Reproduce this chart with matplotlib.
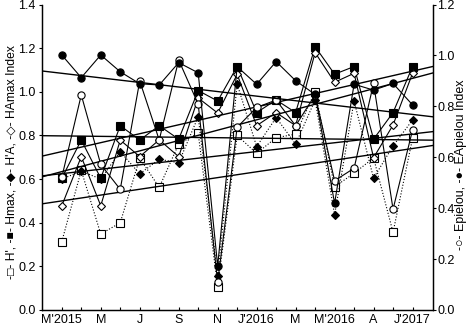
import numpy as np
import matplotlib
matplotlib.use("Agg")
import matplotlib.pyplot as plt

# Sampling occasions (monthly, every other one labelled)
samples = np.arange(19)
tick_labels = ["M'2015", "M", "J", "S", "N", "J'2016", "M", "M'2016", "A", "J'2017"]

# Diversity indices (left axis)
h_shannon = [0.313, 0.64, 0.348, 0.40, 0.696, 0.562, 0.761, 0.81, 0.107, 0.80,
             0.718, 0.79, 0.806, 1.001, 0.565, 0.627, 0.697, 0.356, 0.787]
h_max = [0.604, 0.779, 0.604, 0.845, 0.779, 0.845, 0.783, 1.006, 0.958, 1.116,
         0.905, 0.963, 0.905, 1.207, 1.081, 1.116, 0.783, 0.905, 1.116]
h_shannon_a = [0.60, 0.637, 0.60, 0.726, 0.624, 0.691, 0.675, 0.886, 0.156, 1.036,
               0.749, 0.882, 0.76, 0.963, 0.436, 0.958, 0.604, 0.752, 0.871]
h_max_a = [0.478, 0.703, 0.478, 0.779, 0.703, 0.78, 0.703, 0.972, 0.903, 1.08,
           0.845, 0.905, 0.845, 1.18, 1.044, 1.085, 0.698, 0.848, 1.085]

# Evenness indices (right axis)
pielou = [0.521, 0.845, 0.572, 0.474, 0.90, 0.668, 0.982, 0.809, 0.109, 0.718,
          0.796, 0.825, 0.724, 0.845, 0.508, 0.557, 0.89, 0.396, 0.707]
pielou_a = [1.002, 0.913, 1.002, 0.936, 0.889, 0.884, 0.972, 0.932, 0.173, 0.956,
            0.887, 0.976, 0.901, 0.847, 0.419, 0.887, 0.864, 0.89, 0.806]

plt.rcParams['font.family'] = ['Liberation Sans', 'DejaVu Sans']
plt.rcParams['font.size'] = 9

fig = plt.figure(figsize=(4.74, 3.26), dpi=100)
ax = fig.add_axes([0.088, 0.0491, 0.8255, 0.9368])
ax2 = ax.twinx()

xlim = (-1.03, 19.05)
ax.set_xlim(*xlim)
ax.set_ylim(0, 1.4)
ax2.set_ylim(0, 1.2)

lw = 0.8
ms = 5.2

def series(axis, vals, marker, face, ls, size=ms):
    axis.plot(samples, vals, color='black', linestyle=ls, linewidth=lw,
              marker=marker, markersize=size, markerfacecolor=face,
              markeredgecolor='black', markeredgewidth=0.8)

def trend(axis, vals):
    coef = np.polyfit(samples, vals, 1)
    xs = np.array(xlim)
    axis.plot(xs, np.polyval(coef, xs), color='black', linewidth=1.0)

series(ax, h_shannon, 's', 'white', ':')
series(ax, h_shannon_a, 'D', 'black', ':', 4.0)
series(ax, h_max, 's', 'black', '-')
series(ax, h_max_a, 'D', 'white', '-', 4.3)
for v in (h_shannon, h_max, h_shannon_a, h_max_a):
    trend(ax, v)

series(ax2, pielou, 'o', 'white', '-')
series(ax2, pielou_a, 'o', 'black', '-')
for v in (pielou, pielou_a):
    trend(ax2, v)

ax.set_yticks(np.arange(0, 1.41, 0.2))
ax.set_yticklabels([f"{v:.1f}" for v in np.arange(0, 1.41, 0.2)])
ax2.set_yticks(np.arange(0, 1.21, 0.2))
ax2.set_yticklabels([f"{v:.1f}" for v in np.arange(0, 1.21, 0.2)])

ax.set_xticks(samples)
ax.set_xticklabels([tick_labels[i // 2] if i % 2 == 0 else "" for i in samples])

for a in (ax, ax2):
    a.spines['top'].set_visible(False)
    for s in a.spines.values():
        s.set_linewidth(0.9)
ax.tick_params(axis='x', direction='in', length=2.5, width=0.8, pad=3)
ax.tick_params(axis='y', direction='out', length=2.5, width=0.8, pad=1.8)
ax2.tick_params(axis='y', direction='out', length=2.5, width=0.8, pad=0.6)

fig.text(0.024, 0.503,
         "-\u25A1- H', -\u25A0- Hmax, -\u25C6- H'A, -\u25C7- HAmax Index",
         rotation=90, ha='center', va='center', fontsize=8.7)
fig.text(0.9735, 0.494,
         "-\u25CB- Epielou, -\u25CF- EApielou Index",
         rotation=90, ha='center', va='center', fontsize=9)

fig.savefig("out.png", dpi=100)
